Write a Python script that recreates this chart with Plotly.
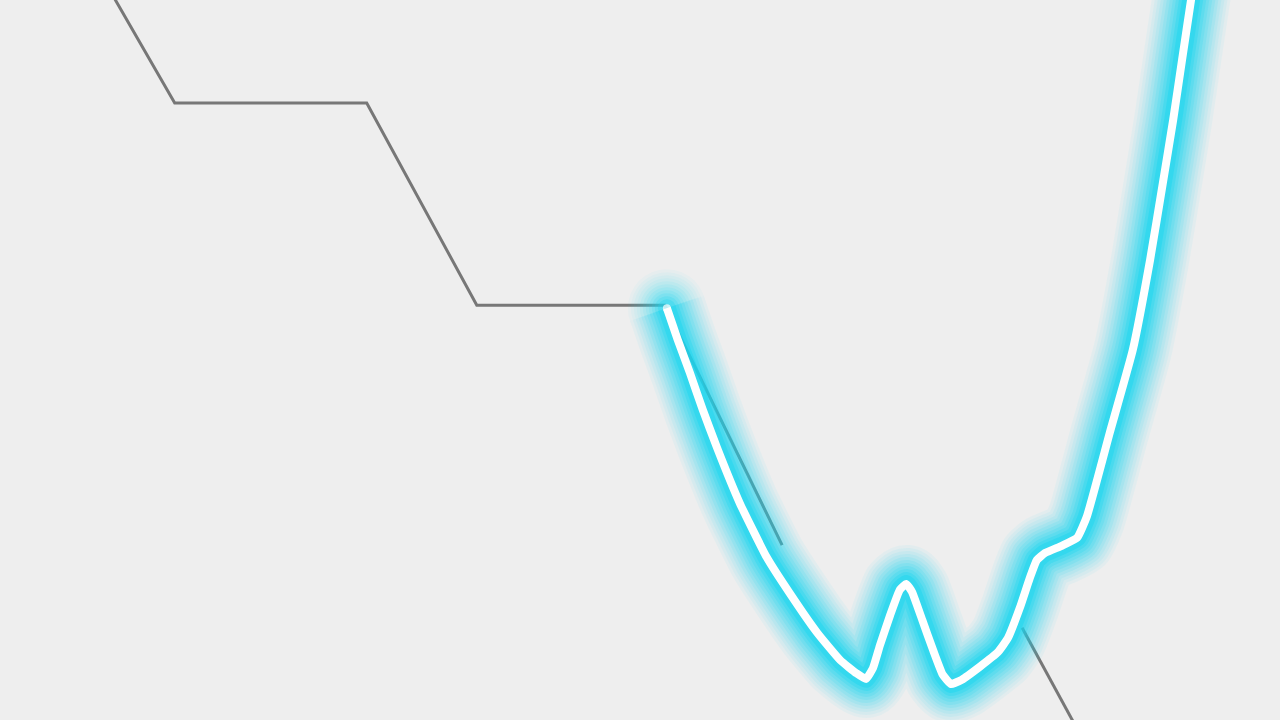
import plotly.graph_objects as go

# Gray stepped reference path (None = hidden gap)
gray_x = [1.44, 2.73, 5.73, 7.45, 10.39, 12.22, None, 15.97, 16.84]
gray_y = [10.56, 8.57, 8.57, 5.76, 5.76, 2.43, None, 1.28, -0.14]

# Glowing highlighted path
glow_x = [10.42, 10.59, 10.78, 10.98, 11.20, 11.56, 11.98, 12.34, 12.77, 13.13,
          13.38, 13.53, 13.64, 13.75, 13.91, 14.06, 14.16, 14.25, 14.41, 14.58,
          14.73, 14.86, 15.03, 15.31, 15.59, 15.75, 15.94, 16.09, 16.20, 16.33,
          16.59, 16.83, 16.98, 17.34, 17.70, 17.97, 18.17, 18.33, 18.47, 18.61, 18.66]
glow_y = [5.72, 5.28, 4.82, 4.31, 3.79, 3.01, 2.26, 1.76, 1.21, 0.83,
          0.65, 0.57, 0.72, 1.04, 1.46, 1.81, 1.89, 1.78, 1.39, 0.97,
          0.63, 0.50, 0.56, 0.74, 0.94, 1.14, 1.57, 1.97, 2.22, 2.32,
          2.42, 2.53, 2.82, 3.99, 5.14, 6.39, 7.46, 8.33, 9.17, 10.0, 10.28]

fig = go.Figure()
fig.add_trace(go.Scatter(x=gray_x, y=gray_y, mode="lines",
                         line=dict(color="#777777", width=3),
                         connectgaps=False, hoverinfo="skip", showlegend=False))

glow_widths = [78, 72, 66, 60, 54, 48, 42, 36, 30, 24, 18]
glow_ops = [0.05, 0.06, 0.07, 0.08, 0.10, 0.12, 0.14, 0.17, 0.22, 0.30, 0.45]
n = len(glow_x)
for w, op in zip(glow_widths, glow_ops):
    fig.add_trace(go.Scatter(
        x=glow_x, y=glow_y, mode="lines+markers",
        line=dict(color="rgb(28,214,240)", width=w, shape="spline", smoothing=0.4),
        marker=dict(color="rgb(28,214,240)", size=[w] + [0] * (n - 1), line=dict(width=0)),
        opacity=op, hoverinfo="skip", showlegend=False))
fig.add_trace(go.Scatter(
    x=glow_x, y=glow_y, mode="lines+markers",
    line=dict(color="#ffffff", width=8, shape="spline", smoothing=0.4),
    marker=dict(color="#ffffff", size=[8] + [0] * (n - 1), line=dict(width=0)),
    hoverinfo="skip", showlegend=False))

fig.update_layout(
    width=1280, height=720,
    margin=dict(l=0, r=0, t=0, b=0),
    paper_bgcolor="#eeeeee", plot_bgcolor="#eeeeee",
    xaxis=dict(range=[0, 20], visible=False),
    yaxis=dict(range=[0, 10], visible=False),
    showlegend=False,
)
fig.write_html("out.html", config={"displayModeBar": False},
               post_script="document.body.style.margin='0';document.body.style.background='#eeeeee';")
